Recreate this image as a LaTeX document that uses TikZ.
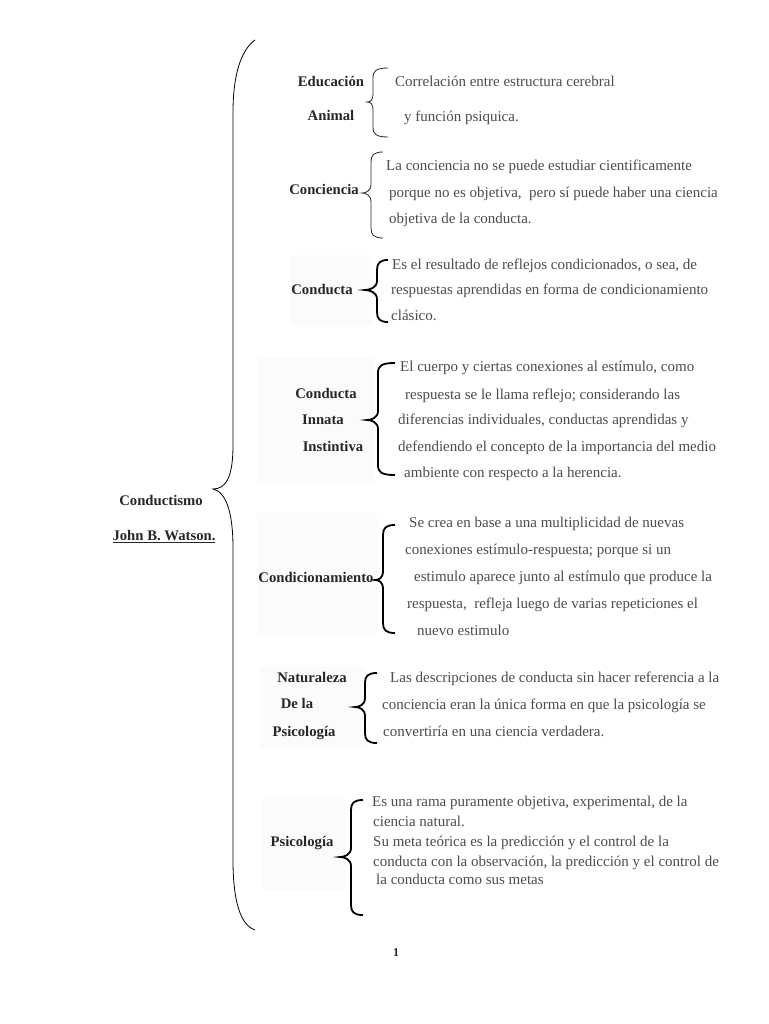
\documentclass[tikz,border=0pt]{standalone}
\usepackage{fontspec}
\setmainfont{Liberation Serif}
\newfontfamily\bodyfont{Liberation Serif}
\begin{document}
\newcommand\cbrace[7]{%
  \draw[#1] (#2,#3) .. controls ({#4+3},#3) and (#4,{#3+3}) .. (#4,{#3+10})
    -- (#4,{#6-9}) .. controls (#4,{#6-2}) and ({#5+4},#6) .. (#5,#6)
    .. controls ({#5+4},#6) and (#4,{#6+2}) .. (#4,{#6+9})
    -- (#4,{#7-10}) .. controls (#4,{#7-3}) and ({#4+3},#7) .. (#2,#7);}
\begin{tikzpicture}[x=1pt,y=-1pt,
  txt/.style={anchor=base west, inner sep=0pt, text=black!70, font=\fontsize{15}{18}\selectfont},
  lbl/.style={anchor=base, inner sep=0pt, text=black!85, font=\fontsize{14.7}{18}\selectfont\bfseries},
  thinbrace/.style={draw=black!85, line width=0.8pt},
  thickbrace/.style={draw=black, line width=1.8pt},
  shade/.style={fill=black!1.5, draw=none}]
\useasboundingbox[fill=white] (0,0) rectangle (768,1024);
% faint backgrounds
\fill[shade] (290,255) rectangle (372,325);
\fill[shade] (258,358) rectangle (374,484);
\fill[shade] (257,513) rectangle (377,636);
\fill[shade] (260,667) rectangle (365,747);
\fill[shade] (262,797) rectangle (345,890);
% main brace
\draw[line width=0.8pt] (255,40) .. controls (241,50) and (233,75) .. (233,112)
  -- (233,445) .. controls (233,477) and (226,489) .. (213,489)
  .. controls (226,492) and (233,512) .. (233,548)
  -- (233,860) .. controls (233,900) and (240,925) .. (255,930);
\node[lbl] (root) at (161,505.5) {Conductismo};
\node[lbl] (author) at (164,540.5) {\underline{John B. Watson.}};
% 1
\cbrace{thinbrace}{388}{68}{373}{367}{102}{137}
\node[lbl] (l1a) at (331,86.5) {Educación};
\node[lbl] (l1b) at (331,120.5) {Animal};
\node[txt] (t1a) at (395,86.5) {Correlación entre estructura cerebral};
\node[txt] (t1b) at (404,121.5) {y función psiquica.};
% 2
\cbrace{thinbrace}{383}{152}{371}{362}{193}{238}
\node[lbl] (l2) at (324,194.5) {Conciencia};
\node[txt] (t2a) at (386,170.5) {La conciencia no se puede estudiar cientificamente};
\node[txt] (t2b) at (389,197.5) {porque no es objetiva,\ \ pero sí puede haber una ciencia};
\node[txt] (t2c) at (389,223.5) {objetiva de la conducta.};
% 3
\cbrace{thickbrace}{388}{260}{377}{365}{290}{322}
\node[lbl] (l3) at (322,294.5) {Conducta};
\node[txt] (t3a) at (392,269.5) {Es el resultado de reflejos condicionados, o sea, de};
\node[txt] (t3b) at (391,294.5) {respuestas aprendidas en forma de condicionamiento};
\node[txt] (t3c) at (391,320.5) {clásico.};
% 4
\cbrace{thickbrace}{395}{363}{378}{367}{420}{475}
\node[lbl] (l4a) at (326,398.5) {Conducta};
\node[lbl] (l4b) at (323,424.5) {Innata};
\node[lbl] (l4c) at (333,451.5) {Instintiva};
\node[txt] (t4a) at (400,371.5) {El cuerpo y ciertas conexiones al estímulo, como};
\node[txt] (t4b) at (405,399.5) {respuesta se le llama reflejo; considerando las};
\node[txt] (t4c) at (398,424.5) {diferencias individuales, conductas aprendidas y};
\node[txt] (t4d) at (398,451.5) {defendiendo el concepto de la importancia del medio};
\node[txt] (t4e) at (404,477.5) {ambiente con respecto a la herencia.};
% 5
\cbrace{thickbrace}{395}{525}{383}{375}{580}{633}
\node[lbl] (l5) at (316,582.5) {Condicionamiento};
\node[txt] (t5a) at (409,527.5) {Se crea en base a una multiplicidad de nuevas};
\node[txt] (t5b) at (405,554.5) {conexiones estímulo-respuesta; porque si un};
\node[txt] (t5c) at (414,581.5) {estimulo aparece junto al estímulo que produce la};
\node[txt] (t5d) at (407,608.5) {respuesta,\ \ refleja luego de varias repeticiones el};
\node[txt] (t5e) at (417,635.5) {nuevo estimulo};
% 6
\cbrace{thickbrace}{377}{673}{365}{355}{707}{743}
\node[lbl] (l6a) at (312,682.5) {Naturaleza};
\node[lbl] (l6b) at (297,708.5) {De la};
\node[lbl] (l6c) at (304,736.5) {Psicología};
\node[txt] (t6a) at (390,682.5) {Las descripciones de conducta sin hacer referencia a la};
\node[txt] (t6b) at (382,709.5) {conciencia eran la única forma en que la psicología se};
\node[txt] (t6c) at (383,736.5) {convertiría en una ciencia verdadera.};
% 7
\cbrace{thickbrace}{363}{800}{351}{340}{857}{915}
\node[lbl] (l7) at (302,846.5) {Psicología};
\node[txt] (t7a) at (372,806.5) {Es una rama puramente objetiva, experimental, de la};
\node[txt] (t7b) at (373,826.5) {ciencia natural.};
\node[txt] (t7c) at (373,846.5) {Su meta teórica es la predicción y el control de la};
\node[txt] (t7d) at (373,866.5) {conducta con la observación, la predicción y el control de};
\node[txt] (t7e) at (376,884.5) {la conducta como sus metas};
% page number
\node[lbl, font=\fontsize{12}{14}\selectfont\bfseries] (page) at (396,956) {1};
\end{tikzpicture}
\end{document}
